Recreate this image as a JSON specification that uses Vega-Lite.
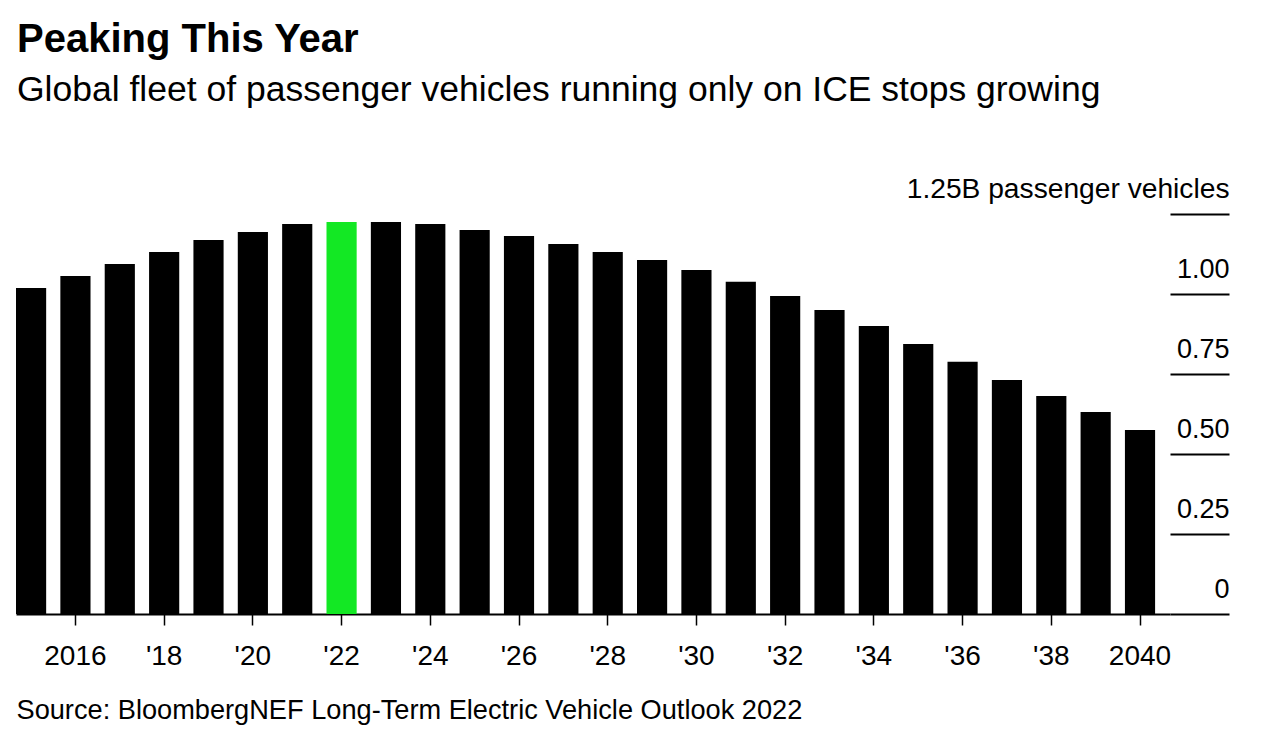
{
  "$schema": "https://vega.github.io/schema/vega-lite/v6.json",
  "width": 1154,
  "height": 400,
  "autosize": {"type": "none"},
  "padding": {"left": 16, "top": 214, "right": 98, "bottom": 138},
  "background": "#ffffff",
  "title": {
    "text": "Peaking This Year",
    "subtitle": "Global fleet of passenger vehicles running only on ICE stops growing",
    "anchor": "start",
    "frame": "group",
    "orient": "top",
    "font": "Liberation Sans",
    "fontSize": 40,
    "fontWeight": "bold",
    "color": "#000000",
    "subtitleFont": "Liberation Sans",
    "subtitleFontSize": 35.5,
    "subtitleColor": "#000000",
    "subtitlePadding": 13,
    "offset": 66,
    "dx": 1
  },
  "config": {
    "view": {"stroke": null},
    "font": "Liberation Sans"
  },
  "data": {
    "values": [
      {"year": 2015, "vehicles": 1.019},
      {"year": 2016, "vehicles": 1.056},
      {"year": 2017, "vehicles": 1.094},
      {"year": 2018, "vehicles": 1.131},
      {"year": 2019, "vehicles": 1.169},
      {"year": 2020, "vehicles": 1.194},
      {"year": 2021, "vehicles": 1.219},
      {"year": 2022, "vehicles": 1.225},
      {"year": 2023, "vehicles": 1.225},
      {"year": 2024, "vehicles": 1.219},
      {"year": 2025, "vehicles": 1.2},
      {"year": 2026, "vehicles": 1.181},
      {"year": 2027, "vehicles": 1.156},
      {"year": 2028, "vehicles": 1.131},
      {"year": 2029, "vehicles": 1.106},
      {"year": 2030, "vehicles": 1.075},
      {"year": 2031, "vehicles": 1.038},
      {"year": 2032, "vehicles": 0.994},
      {"year": 2033, "vehicles": 0.95},
      {"year": 2034, "vehicles": 0.9},
      {"year": 2035, "vehicles": 0.844},
      {"year": 2036, "vehicles": 0.788},
      {"year": 2037, "vehicles": 0.731},
      {"year": 2038, "vehicles": 0.681},
      {"year": 2039, "vehicles": 0.631},
      {"year": 2040, "vehicles": 0.575}
    ]
  },
  "mark": {"type": "bar"},
  "encoding": {
    "x": {
      "field": "year",
      "type": "ordinal",
      "scale": {"paddingInner": 0.32, "paddingOuter": 0.168, "align": 0},
      "axis": {
        "values": [2016, 2018, 2020, 2022, 2024, 2026, 2028, 2030, 2032, 2034, 2036, 2038, 2040],
        "labelExpr": "datum.value == 2016 || datum.value == 2040 ? datum.label : \"'\" + slice(datum.label, 2)",
        "labelAngle": 0,
        "labelFontSize": 28,
        "labelColor": "#000000",
        "labelPadding": 17,
        "tickSize": 11,
        "tickColor": "#000000",
        "tickWidth": 1.5,
        "domainColor": "#000000",
        "domainWidth": 2,
        "title": "Source: BloombergNEF Long-Term Electric Vehicle Outlook 2022",
        "titleAnchor": "start",
        "titleAlign": "left",
        "titleFontSize": 27.2,
        "titleFontWeight": "normal",
        "titleColor": "#000000",
        "titlePadding": 27
      }
    },
    "y": {
      "field": "vehicles",
      "type": "quantitative",
      "scale": {"domain": [0, 1.25]},
      "axis": {
        "orient": "right",
        "values": [0, 0.25, 0.5, 0.75, 1, 1.25],
        "labelExpr": "datum.value == 1.25 ? '1.25B passenger vehicles' : datum.value == 0 ? '0' : format(datum.value, '.2f')",
        "grid": false,
        "domain": false,
        "tickSize": 59,
        "tickWidth": 2,
        "tickColor": "#000000",
        "labelAlign": "right",
        "labelBaseline": "alphabetic",
        "labelOffset": -17,
        "labelPadding": 0,
        "labelLimit": 500,
        "labelFontSize": {"condition": {"test": "datum.value == 1.25", "value": 28.2}, "value": 27},
        "labelColor": "#000000",
        "title": null
      }
    },
    "color": {
      "condition": {"test": "datum.year == 2022", "value": "#13e824"},
      "value": "#000000"
    }
  }
}
